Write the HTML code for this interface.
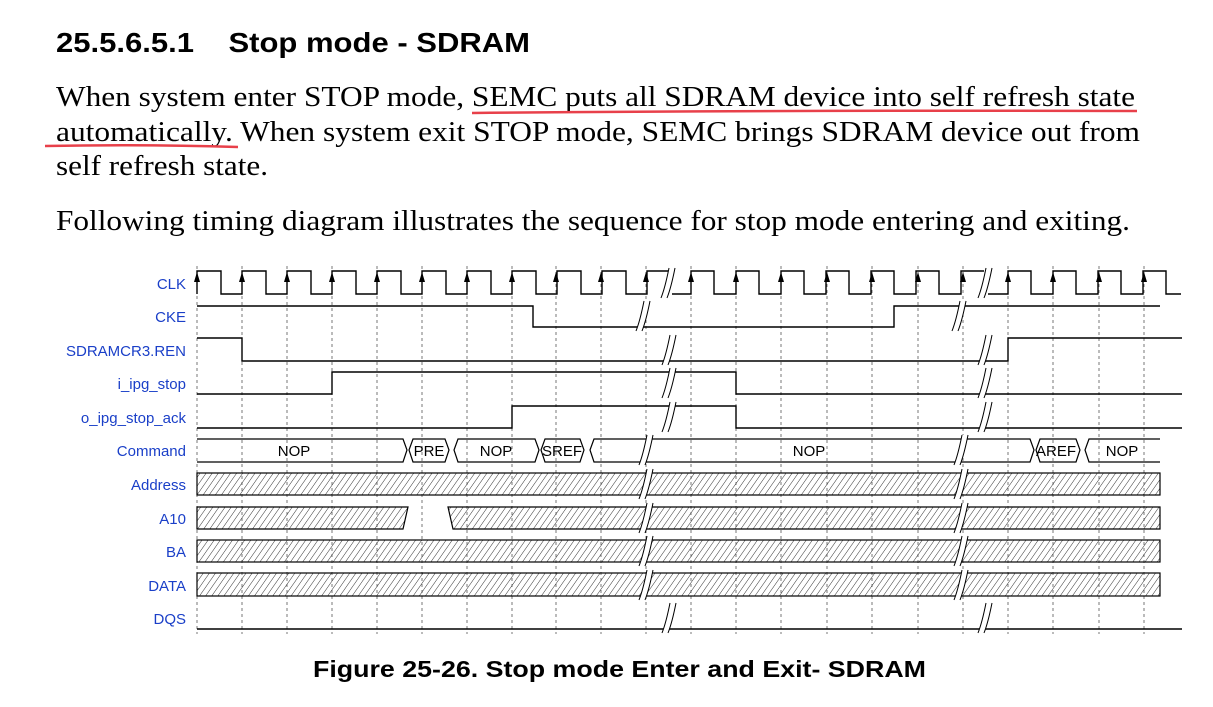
<!DOCTYPE html>
<html><head><meta charset="utf-8"><style>
html,body{margin:0;padding:0;background:#fff;}
svg{display:block;}
.lb{font-family:"Liberation Sans",sans-serif;font-size:15px;fill:#1a3fc8;text-anchor:end;}
.bt{font-family:"Liberation Sans",sans-serif;font-size:15px;fill:#000;text-anchor:middle;}
.w{stroke:#000;stroke-width:1.4;fill:none;}
.p{font-family:"Liberation Serif",serif;font-size:29px;fill:#000;}
</style></head><body>
<svg width="1213" height="707" viewBox="0 0 1213 707" xmlns="http://www.w3.org/2000/svg">
<defs>
<pattern id="h" patternUnits="userSpaceOnUse" width="5" height="5" patternTransform="rotate(35)">
<line x1="0" y1="0" x2="0" y2="5" stroke="#333" stroke-width="1"/>
</pattern>
<g id="brk">
<path d="M-6,15 C-2,5 0,-5 2,-15 L8,-15 C6,-5 4,5 0,15 Z" fill="#fff"/>
<path d="M-6,15 C-2,5 0,-5 2,-15 M0,15 C4,5 6,-5 8,-15" stroke="#000" stroke-width="1" fill="none"/>
</g>
</defs>
<text x="56" y="52" font-family="Liberation Sans,sans-serif" font-weight="bold" font-size="28" textLength="474" lengthAdjust="spacingAndGlyphs" xml:space="preserve">25.5.6.5.1    Stop mode - SDRAM</text>
<text class="p" x="56" y="106" textLength="1079" lengthAdjust="spacingAndGlyphs">When system enter STOP mode, SEMC puts all SDRAM device into self refresh state</text>
<text class="p" x="56" y="141" textLength="1084" lengthAdjust="spacingAndGlyphs">automatically. When system exit STOP mode, SEMC brings SDRAM device out from</text>
<text class="p" x="56" y="175" textLength="212" lengthAdjust="spacingAndGlyphs">self refresh state.</text>
<text class="p" x="56" y="230" textLength="1074" lengthAdjust="spacingAndGlyphs">Following timing diagram illustrates the sequence for stop mode entering and exiting.</text>
<path d="M472,113 Q800,110 1137,111" stroke="#e8404a" stroke-width="2.5" fill="none"/>
<path d="M45,146 Q140,144 238,147" stroke="#e8404a" stroke-width="2.5" fill="none"/>

<g stroke="#777" stroke-width="1" stroke-dasharray="3,3">
<line x1="197" y1="266" x2="197" y2="634"/><line x1="242" y1="266" x2="242" y2="634"/><line x1="287" y1="266" x2="287" y2="634"/><line x1="332" y1="266" x2="332" y2="634"/><line x1="377" y1="266" x2="377" y2="634"/><line x1="422" y1="266" x2="422" y2="634"/><line x1="467" y1="266" x2="467" y2="634"/><line x1="512" y1="266" x2="512" y2="634"/><line x1="556" y1="266" x2="556" y2="634"/><line x1="601" y1="266" x2="601" y2="634"/><line x1="646" y1="266" x2="646" y2="634"/><line x1="691" y1="266" x2="691" y2="634"/><line x1="736" y1="266" x2="736" y2="634"/><line x1="781" y1="266" x2="781" y2="634"/><line x1="827" y1="266" x2="827" y2="634"/><line x1="872" y1="266" x2="872" y2="634"/><line x1="918" y1="266" x2="918" y2="634"/><line x1="963" y1="266" x2="963" y2="634"/><line x1="1008" y1="266" x2="1008" y2="634"/><line x1="1053" y1="266" x2="1053" y2="634"/><line x1="1099" y1="266" x2="1099" y2="634"/><line x1="1144" y1="266" x2="1144" y2="634"/>
</g>

<text class="lb" x="186" y="289">CLK</text>
<text class="lb" x="186" y="322">CKE</text>
<text class="lb" x="186" y="356">SDRAMCR3.REN</text>
<text class="lb" x="186" y="389">i_ipg_stop</text>
<text class="lb" x="186" y="423">o_ipg_stop_ack</text>
<text class="lb" x="186" y="456">Command</text>
<text class="lb" x="186" y="490">Address</text>
<text class="lb" x="186" y="524">A10</text>
<text class="lb" x="186" y="557">BA</text>
<text class="lb" x="186" y="591">DATA</text>
<text class="lb" x="186" y="624">DQS</text>

<path class="w" d="M197,294 v-23 h24 v23 h21 v-23 h24 v23 h21 v-23 h24 v23 h21 v-23 h24 v23 h21 v-23 h24 v23 h21 v-23 h24 v23 h21 v-23 h24 v23 h21 v-23 h24 v23 h21 v-23 h24 v23 h21 v-23 h24 v23 h21 v-23 h21
M672,294 H691 v-23 h23 v23 h22 v-23 h23 v23 h22 v-23 h23 v23 h22 v-23 h23 v23 h22 v-23 h23 v23 h22 v-23 h23 v23 h22 v-23 h23
M988,294 H1008 v-23 h23 v23 h22 v-23 h23 v23 h22 v-23 h23 v23 h22 v-23 h23 v23 h15"/>
<g fill="#000">
<path d="M197,272 l-3,10 h6z"/><path d="M242,272 l-3,10 h6z"/><path d="M287,272 l-3,10 h6z"/><path d="M332,272 l-3,10 h6z"/><path d="M377,272 l-3,10 h6z"/><path d="M422,272 l-3,10 h6z"/><path d="M467,272 l-3,10 h6z"/><path d="M512,272 l-3,10 h6z"/><path d="M556,272 l-3,10 h6z"/><path d="M601,272 l-3,10 h6z"/><path d="M646,272 l-3,10 h6z"/><path d="M691,272 l-3,10 h6z"/><path d="M736,272 l-3,10 h6z"/><path d="M781,272 l-3,10 h6z"/><path d="M827,272 l-3,10 h6z"/><path d="M872,272 l-3,10 h6z"/><path d="M918,272 l-3,10 h6z"/><path d="M963,272 l-3,10 h6z"/><path d="M1008,272 l-3,10 h6z"/><path d="M1053,272 l-3,10 h6z"/><path d="M1099,272 l-3,10 h6z"/><path d="M1144,272 l-3,10 h6z"/>
</g>
<use href="#brk" x="667" y="283"/><use href="#brk" x="984" y="283"/>

<path class="w" d="M197,306 H533 V327 H894 V306 H1160"/>
<use href="#brk" x="642" y="316"/><use href="#brk" x="958" y="316"/>
<path class="w" d="M197,338 H242 V361 H1008 V338 H1182"/>
<use href="#brk" x="668" y="350"/><use href="#brk" x="984" y="350"/>
<path class="w" d="M197,394 H332 V372 H736 V394 H1182"/>
<use href="#brk" x="668" y="383"/><use href="#brk" x="984" y="383"/>
<path class="w" d="M197,428 H512 V406 H736 V428 H1182"/>
<use href="#brk" x="668" y="417"/><use href="#brk" x="984" y="417"/>

<g stroke="#000" stroke-width="1.2" fill="none">
<path d="M197,439 H403 L407,450 L403,462 H197"/>
<path d="M413,439 H445 L449,450 L445,462 H413 L409,450 Z"/>
<path d="M458,439 H535 L539,450 L535,462 H458 L454,450 Z"/>
<path d="M545,439 H580 L584,450 L580,462 H545 L541,450 Z"/>
<path d="M594,439 H1030 L1034,450 L1030,462 H594 L590,450 Z"/>
<path d="M1040,439 H1076 L1080,450 L1076,462 H1040 L1036,450 Z"/>
<path d="M1160,439 H1089 L1085,450 L1089,462 H1160"/>
</g>
<text class="bt" x="294" y="456">NOP</text>
<text class="bt" x="429" y="456">PRE</text>
<text class="bt" x="496" y="456">NOP</text>
<text class="bt" x="562" y="456">SREF</text>
<text class="bt" x="809" y="456">NOP</text>
<text class="bt" x="1056" y="456">AREF</text>
<text class="bt" x="1122" y="456">NOP</text>
<use href="#brk" x="645" y="450"/><use href="#brk" x="960" y="450"/>

<g stroke="#000" stroke-width="1.2">
<rect x="197" y="473" width="963" height="22" fill="url(#h)"/>
<path d="M197,507 H408 L403,529 H197 Z" fill="url(#h)"/>
<path d="M448,507 H1160 V529 H453 Z" fill="url(#h)"/>
<rect x="197" y="540" width="963" height="22" fill="url(#h)"/>
<rect x="197" y="573" width="963" height="23" fill="url(#h)"/>
</g>
<use href="#brk" x="645" y="484"/><use href="#brk" x="960" y="484"/>
<use href="#brk" x="645" y="518"/><use href="#brk" x="960" y="518"/>
<use href="#brk" x="645" y="551"/><use href="#brk" x="960" y="551"/>
<use href="#brk" x="645" y="585"/><use href="#brk" x="960" y="585"/>

<path class="w" d="M197,629 H1182"/>
<use href="#brk" x="668" y="618"/><use href="#brk" x="984" y="618"/>

<text x="313" y="677" font-family="Liberation Sans,sans-serif" font-weight="bold" font-size="23" textLength="613" lengthAdjust="spacingAndGlyphs">Figure 25-26. Stop mode Enter and Exit- SDRAM</text>
</svg>
</body></html>
